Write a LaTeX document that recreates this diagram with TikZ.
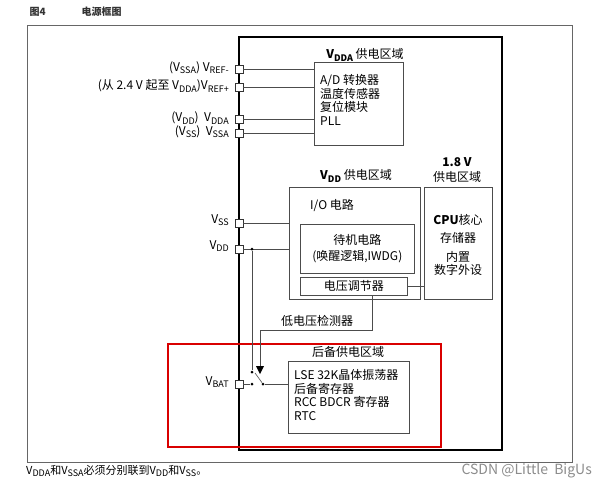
\documentclass[tikz,border=0pt]{standalone}
\usepackage{fontspec}
\setmainfont{Noto Sans CJK SC}
\newcommand\sbs[1]{\raisebox{-0.35ex}{\fontsize{9}{9}\selectfont #1}}
\begin{document}
\begin{tikzpicture}[x=1pt,y=-1pt,font=\fontsize{12}{13.5}\selectfont,
  box/.style={draw=black!70,line width=0.6pt},
  pin/.style={draw=black!80,fill=white,minimum size=8pt,inner sep=0pt,line width=0.5pt},
  wire/.style={draw=black!70,line width=0.6pt},
  dot/.style={circle,fill=black,inner sep=0pt,minimum size=3pt},
  lbl/.style={anchor=east,inner sep=0pt}]
\useasboundingbox (0,0) rectangle (606,490);
\node[anchor=west,font=\fontsize{10}{12}\selectfont\bfseries,text=black!80] (t1) at (26,12) {图4};
\node[anchor=west,font=\fontsize{10}{12}\selectfont\bfseries,text=black!80] (t2) at (78,12) {电源框图};
\draw[black!60,line width=0.5pt] (27,25) rectangle (572,462);
\draw[black,line width=1.2pt] (239,37) rectangle (502,450);
% VDDA domain
\node[box,minimum width=89pt,minimum height=83pt,anchor=north west] (adom) at (314,62) {};
\node[anchor=west,align=left,inner sep=0pt] (atext) at (320,100) {A/D 转换器\\温度传感器\\复位模块\\PLL};
\node (alab) at (365,55) {\textbf{V\sbs{DDA}} 供电区域};
\node[pin] (p1) at (239,69) {};
\node[pin] (p2) at (239,87) {};
\node[pin] (p3) at (239,119) {};
\node[pin] (p4) at (239,133) {};
\node[pin] (p5) at (239,223) {};
\node[pin] (p6) at (239,249) {};
\node[pin] (p7) at (239,384) {};
\node[lbl] (l1) at (229,68) {(V\sbs{SSA}) V\sbs{REF-}};
\node[lbl] (l2) at (229,86) {(从 2.4 V 起至 V\sbs{DDA})V\sbs{REF+}};
\node[lbl] (l3) at (229,118) {(V\sbs{DD})\ \ V\sbs{DDA}};
\node[lbl] (l4) at (229,132) {(V\sbs{SS})\ \ V\sbs{SSA}};
\node[lbl] (l5) at (229,220) {V\sbs{SS}};
\node[lbl] (l6) at (229,246) {V\sbs{DD}};
\node[lbl] (l7) at (229,382) {V\sbs{BAT}};
\draw[wire] (p1.east) -- (p1.east -| adom.west);
\draw[wire] (p2.east) -- (p2.east -| adom.west);
\draw[wire] (p3.east) -- (p3.east -| adom.west);
\draw[wire] (p4.east) -- (p4.east -| adom.west);
% VDD domain
\node[box,minimum width=131pt,minimum height=112pt,anchor=north west] (ddom) at (289,187) {};
\node (dlab) at (356,176) {\textbf{V\sbs{DD}} 供电区域};
\node[anchor=west,inner sep=0pt] (io) at (310,206) {I/O 电路};
\node[box,minimum width=114pt,minimum height=49pt,anchor=north west,align=center] (stby) at (300,224) {待机电路\\[2pt](唤醒逻辑,IWDG)};
\node[box,minimum width=107pt,minimum height=18pt,anchor=north west,inner sep=0pt] (reg) at (300,277) {电压调节器};
% 1.8V
\node[box,minimum width=68pt,minimum height=112pt,anchor=north west] (cdom) at (424,187) {};
\node[align=center,inner sep=0pt] (clab) at (457,170) {\textbf{1.8 V}\\[1pt]供电区域};
\node[align=center,inner sep=0pt] (ctext) at (458,245) {\textbf{CPU}核心\\[5pt]存储器\\[5pt]内置\\数字外设};
\draw[wire] (reg.east) -- (reg.east -| cdom.west);
\draw[wire] (p5.east) -- (p5.east -| ddom.west);
\draw[wire] (p6.east) -- (p6.east -| ddom.west);
% backup
\draw[red!85!black,line width=1.2pt] (168,344) rectangle (441,447);
\node (blab) at (348,352) {后备供电区域};
\node[box,minimum width=121pt,minimum height=72pt,anchor=north west] (bdom) at (288,361) {};
\node[anchor=west,align=left,inner sep=0pt] (btext) at (294,395) {LSE 32K晶体振荡器\\后备寄存器\\RCC BDCR 寄存器\\RTC};
\node[dot] (d1) at (252,249) {};
\node[dot] (d2) at (252,372) {};
\node[dot] (d3) at (252,384) {};
\node[dot] (d4) at (263,384) {};
\coordinate (c1) at (372,330);
\coordinate (c2) at (260,330);
\coordinate (c3) at (260,372);
\draw[wire] (d1) -- (d2);
\draw[wire] (p7.east) -- (d3);
\draw[wire] (d4) -- (bdom.west |- d4);
\draw[wire] (d4) -- (255,373);
\draw[wire] (reg.south -| c1) -- (c1) -- (c2) -- (c3);
\fill (c3) ++(0,2) -- ++(-4,-8) -- ++(8,0) -- cycle;
\node[fill=white,inner sep=1pt] (ldet) at (317,321) {低电压检测器};
\node[anchor=west,inner sep=0pt,font=\fontsize{11}{13}\selectfont\itshape] (foot) at (26,471) {V\sbs{DDA}和V\sbs{SSA}必须分别联到V\sbs{DD}和V\sbs{SS}。};
\node[anchor=east,inner sep=0pt,text=black!45,font=\fontsize{14}{16}\selectfont] (wm) at (592,471) {CSDN @Little\ \ BigUs};
\end{tikzpicture}
\end{document}
